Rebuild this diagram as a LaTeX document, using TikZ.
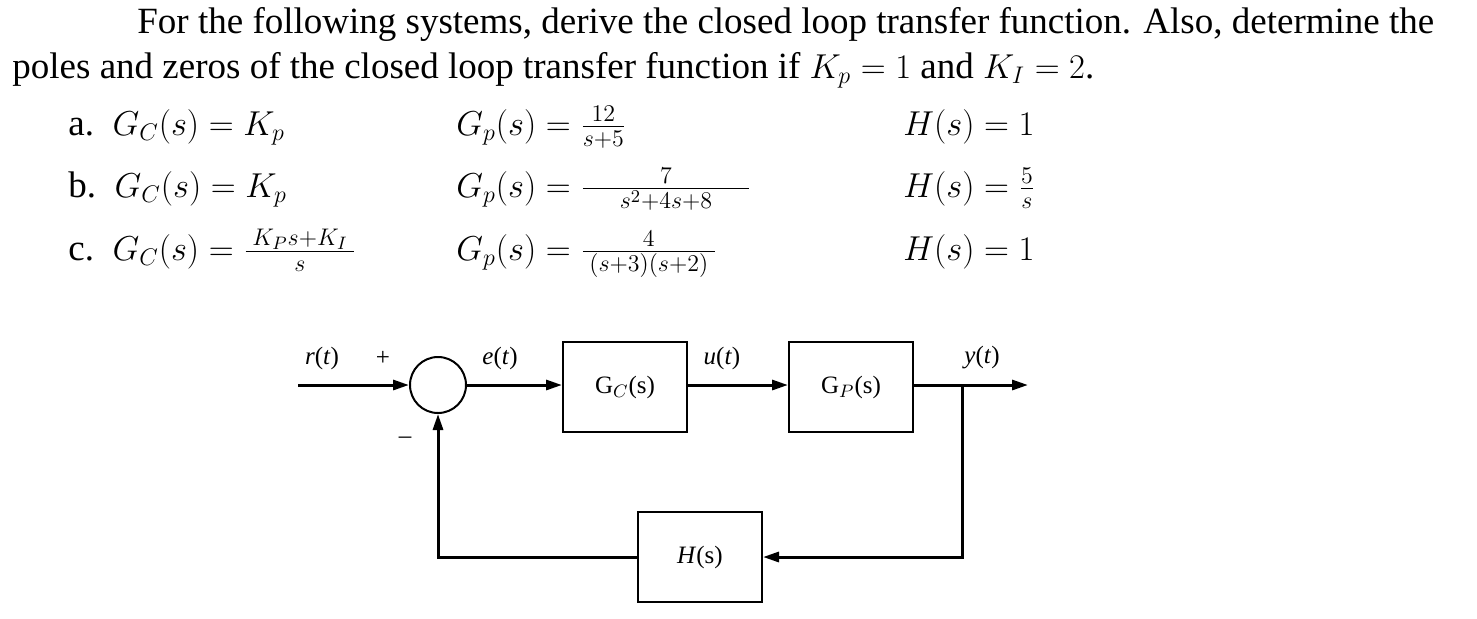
\documentclass[tikz,border=0pt]{standalone}
\usepackage{fontspec}
\setmainfont{Liberation Serif}
\usepackage{amsmath}
\usetikzlibrary{arrows.meta}
\begin{document}
\begin{tikzpicture}[x=0.5pt,y=-0.5pt,
  blk/.style={draw,line width=1pt,minimum width=62pt,minimum height=45pt,inner sep=0pt,font=\fontsize{12.5}{14}\selectfont},
  lnk/.style={line width=1.5pt},
  arr/.style={line width=1.5pt,-{Triangle[length=8pt,width=5pt]}},
  lbl/.style={font=\fontsize{12.5}{14}\selectfont},
  big/.style={font=\fontsize{18.5}{22}\selectfont,anchor=base west,inner sep=0pt}]
\useasboundingbox (0,0) rectangle (1477,618);
\node[big] (t1) at (137,33) {For the following systems, derive the closed loop transfer function. Also, determine the};
\node[big] (t2) at (12,78) {poles and zeros of the closed loop transfer function if $K_p=1$ and $K_I=2$.};
% a
\node[big] (la) at (68,135) {a.\ \ $G_C(s)=K_p$};
\node[big] (ga) at (456,135) {$G_p(s)=\tfrac{12}{s+5}$};
\node[big] (ha) at (903,135) {$H(s)=1$};
% b
\node[big] (lb) at (68,197) {b.\ \ $G_C(s)=K_p$};
\node[big] (gb) at (456,197) {$G_p(s)=\tfrac{7}{\quad s^2+4s+8\quad}$};
\node[big] (hb) at (903,197) {$H(s)=\tfrac{5}{s}$};
% c
\node[big] (lc) at (68,260) {c.\ \ $G_C(s)=\tfrac{\;K_Ps+K_I\;}{s}$};
\node[big] (gc) at (456,260) {$G_p(s)=\tfrac{4}{\;(s+3)(s+2)\;}$};
\node[big] (hc) at (903,260) {$H(s)=1$};
% diagram
\node[draw,circle,line width=1pt,minimum size=28pt,inner sep=0pt] (sum) at (438,385) {};
\node[blk] (gcb) at (625,387) {G$_C$(s)};
\node[blk] (gpb) at (851,387) {G$_P$(s)};
\node[blk] (hb2) at (700,557) {\textit{H}(s)};
\coordinate (in) at (298,385);
\coordinate (out) at (1028,385);
\coordinate (tap) at (962,385);
\draw[arr] (in) -- (sum.west);
\draw[arr] (sum.east) -- (sum.east -| gcb.west);
\draw[arr] (sum.east -| gcb.east) -- (sum.east -| gpb.west);
\draw[arr] (sum.east -| gpb.east) -- (out);
\draw[arr] (tap) |- (hb2.east);
\draw[arr] (hb2.west) -| (sum.south);
\node[lbl] (r) at (322,358) {\textit{r}(\textit{t})};
\node[lbl] (p) at (383,358) {+};
\node[lbl] (m) at (405,440) {--};
\node[lbl] (e) at (500,358) {\textit{e}(\textit{t})};
\node[lbl] (u) at (722,358) {\textit{u}(\textit{t})};
\node[lbl] (y) at (982,358) {\textit{y}(\textit{t})};
\end{tikzpicture}
\end{document}
